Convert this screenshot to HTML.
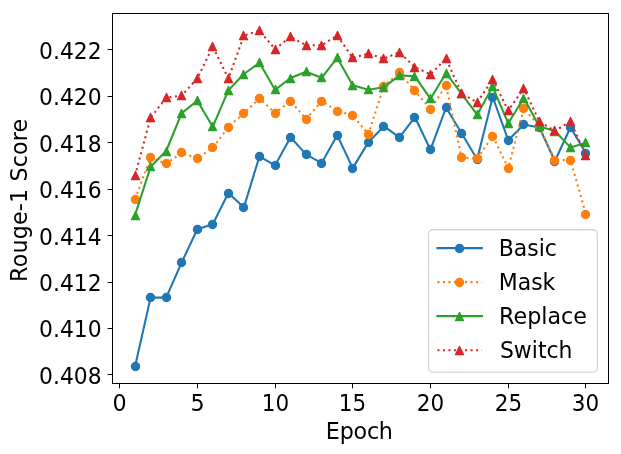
<!DOCTYPE html>
<html><head><meta charset="utf-8"><title>Rouge-1 Score</title>
<style>
html,body{margin:0;padding:0;background:#fff;}
svg{display:block;}
.t{font-family:"DejaVu Sans","Liberation Sans",sans-serif;font-size:22.222px;fill:#000;}
</style></head><body>
<svg width="621" height="454" viewBox="0 0 621 454">
<defs><clipPath id="ax"><rect x="112.5" y="13.5" width="496.0" height="370.0"/></clipPath></defs>
<rect x="0" y="0" width="621" height="454" fill="#fff"/>
<g clip-path="url(#ax)">
<polyline points="135.07,366.40 150.62,297.60 166.17,297.60 181.72,262.40 197.26,229.20 212.81,224.20 228.36,193.00 243.91,207.40 259.46,156.30 275.01,165.40 290.56,137.20 306.11,154.40 321.66,163.10 337.21,135.20 352.75,168.10 368.30,142.40 383.85,126.20 399.40,137.40 414.95,117.20 430.50,149.70 446.05,107.50 461.60,133.20 477.15,159.20 492.70,97.00 508.24,140.20 523.79,124.40 539.34,127.50 554.89,161.00 570.44,127.50 585.99,153.10" fill="none" stroke="#1f77b4" stroke-width="2.083" stroke-linejoin="round" stroke-linecap="square"/>
<circle cx="135.50" cy="366.50" r="4.167" fill="#1f77b4" stroke="#1f77b4" stroke-width="1.1"/>
<circle cx="150.50" cy="297.50" r="4.167" fill="#1f77b4" stroke="#1f77b4" stroke-width="1.1"/>
<circle cx="166.50" cy="297.50" r="4.167" fill="#1f77b4" stroke="#1f77b4" stroke-width="1.1"/>
<circle cx="181.50" cy="262.50" r="4.167" fill="#1f77b4" stroke="#1f77b4" stroke-width="1.1"/>
<circle cx="197.50" cy="229.50" r="4.167" fill="#1f77b4" stroke="#1f77b4" stroke-width="1.1"/>
<circle cx="212.50" cy="224.50" r="4.167" fill="#1f77b4" stroke="#1f77b4" stroke-width="1.1"/>
<circle cx="228.50" cy="193.50" r="4.167" fill="#1f77b4" stroke="#1f77b4" stroke-width="1.1"/>
<circle cx="243.50" cy="207.50" r="4.167" fill="#1f77b4" stroke="#1f77b4" stroke-width="1.1"/>
<circle cx="259.50" cy="156.50" r="4.167" fill="#1f77b4" stroke="#1f77b4" stroke-width="1.1"/>
<circle cx="275.50" cy="165.50" r="4.167" fill="#1f77b4" stroke="#1f77b4" stroke-width="1.1"/>
<circle cx="290.50" cy="137.50" r="4.167" fill="#1f77b4" stroke="#1f77b4" stroke-width="1.1"/>
<circle cx="306.50" cy="154.50" r="4.167" fill="#1f77b4" stroke="#1f77b4" stroke-width="1.1"/>
<circle cx="321.50" cy="163.50" r="4.167" fill="#1f77b4" stroke="#1f77b4" stroke-width="1.1"/>
<circle cx="337.50" cy="135.50" r="4.167" fill="#1f77b4" stroke="#1f77b4" stroke-width="1.1"/>
<circle cx="352.50" cy="168.50" r="4.167" fill="#1f77b4" stroke="#1f77b4" stroke-width="1.1"/>
<circle cx="368.50" cy="142.50" r="4.167" fill="#1f77b4" stroke="#1f77b4" stroke-width="1.1"/>
<circle cx="383.50" cy="126.50" r="4.167" fill="#1f77b4" stroke="#1f77b4" stroke-width="1.1"/>
<circle cx="399.50" cy="137.50" r="4.167" fill="#1f77b4" stroke="#1f77b4" stroke-width="1.1"/>
<circle cx="414.50" cy="117.50" r="4.167" fill="#1f77b4" stroke="#1f77b4" stroke-width="1.1"/>
<circle cx="430.50" cy="149.50" r="4.167" fill="#1f77b4" stroke="#1f77b4" stroke-width="1.1"/>
<circle cx="446.50" cy="107.50" r="4.167" fill="#1f77b4" stroke="#1f77b4" stroke-width="1.1"/>
<circle cx="461.50" cy="133.50" r="4.167" fill="#1f77b4" stroke="#1f77b4" stroke-width="1.1"/>
<circle cx="477.50" cy="159.50" r="4.167" fill="#1f77b4" stroke="#1f77b4" stroke-width="1.1"/>
<circle cx="492.50" cy="97.50" r="4.167" fill="#1f77b4" stroke="#1f77b4" stroke-width="1.1"/>
<circle cx="508.50" cy="140.50" r="4.167" fill="#1f77b4" stroke="#1f77b4" stroke-width="1.1"/>
<circle cx="523.50" cy="124.50" r="4.167" fill="#1f77b4" stroke="#1f77b4" stroke-width="1.1"/>
<circle cx="539.50" cy="127.50" r="4.167" fill="#1f77b4" stroke="#1f77b4" stroke-width="1.1"/>
<circle cx="554.50" cy="161.50" r="4.167" fill="#1f77b4" stroke="#1f77b4" stroke-width="1.1"/>
<circle cx="570.50" cy="127.50" r="4.167" fill="#1f77b4" stroke="#1f77b4" stroke-width="1.1"/>
<circle cx="585.50" cy="153.50" r="4.167" fill="#1f77b4" stroke="#1f77b4" stroke-width="1.1"/>
<polyline points="135.07,199.10 150.62,157.40 166.17,163.70 181.72,152.90 197.26,158.40 212.81,147.90 228.36,127.00 243.91,113.20 259.46,98.40 275.01,113.10 290.56,101.10 306.11,119.10 321.66,101.10 337.21,111.10 352.75,115.20 368.30,134.20 383.85,86.00 399.40,72.90 414.95,90.70 430.50,109.30 446.05,85.40 461.60,157.60 477.15,158.60 492.70,136.10 508.24,168.20 523.79,108.40 539.34,126.60 554.89,160.10 570.44,160.10 585.99,214.30" fill="none" stroke="#ff7f0e" stroke-width="2.083" stroke-dasharray="2.083 3.437" stroke-linejoin="round"/>
<circle cx="135.50" cy="199.50" r="4.167" fill="#ff7f0e" stroke="#ff7f0e" stroke-width="1.1"/>
<circle cx="150.50" cy="157.50" r="4.167" fill="#ff7f0e" stroke="#ff7f0e" stroke-width="1.1"/>
<circle cx="166.50" cy="163.50" r="4.167" fill="#ff7f0e" stroke="#ff7f0e" stroke-width="1.1"/>
<circle cx="181.50" cy="152.50" r="4.167" fill="#ff7f0e" stroke="#ff7f0e" stroke-width="1.1"/>
<circle cx="197.50" cy="158.50" r="4.167" fill="#ff7f0e" stroke="#ff7f0e" stroke-width="1.1"/>
<circle cx="212.50" cy="147.50" r="4.167" fill="#ff7f0e" stroke="#ff7f0e" stroke-width="1.1"/>
<circle cx="228.50" cy="127.50" r="4.167" fill="#ff7f0e" stroke="#ff7f0e" stroke-width="1.1"/>
<circle cx="243.50" cy="113.50" r="4.167" fill="#ff7f0e" stroke="#ff7f0e" stroke-width="1.1"/>
<circle cx="259.50" cy="98.50" r="4.167" fill="#ff7f0e" stroke="#ff7f0e" stroke-width="1.1"/>
<circle cx="275.50" cy="113.50" r="4.167" fill="#ff7f0e" stroke="#ff7f0e" stroke-width="1.1"/>
<circle cx="290.50" cy="101.50" r="4.167" fill="#ff7f0e" stroke="#ff7f0e" stroke-width="1.1"/>
<circle cx="306.50" cy="119.50" r="4.167" fill="#ff7f0e" stroke="#ff7f0e" stroke-width="1.1"/>
<circle cx="321.50" cy="101.50" r="4.167" fill="#ff7f0e" stroke="#ff7f0e" stroke-width="1.1"/>
<circle cx="337.50" cy="111.50" r="4.167" fill="#ff7f0e" stroke="#ff7f0e" stroke-width="1.1"/>
<circle cx="352.50" cy="115.50" r="4.167" fill="#ff7f0e" stroke="#ff7f0e" stroke-width="1.1"/>
<circle cx="368.50" cy="134.50" r="4.167" fill="#ff7f0e" stroke="#ff7f0e" stroke-width="1.1"/>
<circle cx="383.50" cy="86.50" r="4.167" fill="#ff7f0e" stroke="#ff7f0e" stroke-width="1.1"/>
<circle cx="399.50" cy="72.50" r="4.167" fill="#ff7f0e" stroke="#ff7f0e" stroke-width="1.1"/>
<circle cx="414.50" cy="90.50" r="4.167" fill="#ff7f0e" stroke="#ff7f0e" stroke-width="1.1"/>
<circle cx="430.50" cy="109.50" r="4.167" fill="#ff7f0e" stroke="#ff7f0e" stroke-width="1.1"/>
<circle cx="446.50" cy="85.50" r="4.167" fill="#ff7f0e" stroke="#ff7f0e" stroke-width="1.1"/>
<circle cx="461.50" cy="157.50" r="4.167" fill="#ff7f0e" stroke="#ff7f0e" stroke-width="1.1"/>
<circle cx="477.50" cy="158.50" r="4.167" fill="#ff7f0e" stroke="#ff7f0e" stroke-width="1.1"/>
<circle cx="492.50" cy="136.50" r="4.167" fill="#ff7f0e" stroke="#ff7f0e" stroke-width="1.1"/>
<circle cx="508.50" cy="168.50" r="4.167" fill="#ff7f0e" stroke="#ff7f0e" stroke-width="1.1"/>
<circle cx="523.50" cy="108.50" r="4.167" fill="#ff7f0e" stroke="#ff7f0e" stroke-width="1.1"/>
<circle cx="539.50" cy="126.50" r="4.167" fill="#ff7f0e" stroke="#ff7f0e" stroke-width="1.1"/>
<circle cx="554.50" cy="160.50" r="4.167" fill="#ff7f0e" stroke="#ff7f0e" stroke-width="1.1"/>
<circle cx="570.50" cy="160.50" r="4.167" fill="#ff7f0e" stroke="#ff7f0e" stroke-width="1.1"/>
<circle cx="585.50" cy="214.50" r="4.167" fill="#ff7f0e" stroke="#ff7f0e" stroke-width="1.1"/>
<polyline points="135.07,215.10 150.62,166.80 166.17,151.00 181.72,113.10 197.26,100.80 212.81,126.70 228.36,90.40 243.91,74.00 259.46,62.80 275.01,89.80 290.56,78.00 306.11,71.80 321.66,77.80 337.21,57.80 352.75,85.30 368.30,89.80 383.85,87.30 399.40,75.40 414.95,76.30 430.50,98.80 446.05,73.00 461.60,93.80 477.15,114.70 492.70,86.80 508.24,123.30 523.79,98.00 539.34,126.40 554.89,131.00 570.44,147.40 585.99,142.70" fill="none" stroke="#2ca02c" stroke-width="2.083" stroke-linejoin="round" stroke-linecap="square"/>
<polygon points="135.50,211.33 131.33,219.67 139.67,219.67" fill="#2ca02c" stroke="#2ca02c" stroke-width="1.1" stroke-linejoin="round"/>
<polygon points="150.50,162.33 146.33,170.67 154.67,170.67" fill="#2ca02c" stroke="#2ca02c" stroke-width="1.1" stroke-linejoin="round"/>
<polygon points="166.50,147.33 162.33,155.67 170.67,155.67" fill="#2ca02c" stroke="#2ca02c" stroke-width="1.1" stroke-linejoin="round"/>
<polygon points="181.50,109.33 177.33,117.67 185.67,117.67" fill="#2ca02c" stroke="#2ca02c" stroke-width="1.1" stroke-linejoin="round"/>
<polygon points="197.50,96.33 193.33,104.67 201.67,104.67" fill="#2ca02c" stroke="#2ca02c" stroke-width="1.1" stroke-linejoin="round"/>
<polygon points="212.50,122.33 208.33,130.67 216.67,130.67" fill="#2ca02c" stroke="#2ca02c" stroke-width="1.1" stroke-linejoin="round"/>
<polygon points="228.50,86.33 224.33,94.67 232.67,94.67" fill="#2ca02c" stroke="#2ca02c" stroke-width="1.1" stroke-linejoin="round"/>
<polygon points="243.50,70.33 239.33,78.67 247.67,78.67" fill="#2ca02c" stroke="#2ca02c" stroke-width="1.1" stroke-linejoin="round"/>
<polygon points="259.50,58.33 255.33,66.67 263.67,66.67" fill="#2ca02c" stroke="#2ca02c" stroke-width="1.1" stroke-linejoin="round"/>
<polygon points="275.50,85.33 271.33,93.67 279.67,93.67" fill="#2ca02c" stroke="#2ca02c" stroke-width="1.1" stroke-linejoin="round"/>
<polygon points="290.50,74.33 286.33,82.67 294.67,82.67" fill="#2ca02c" stroke="#2ca02c" stroke-width="1.1" stroke-linejoin="round"/>
<polygon points="306.50,67.33 302.33,75.67 310.67,75.67" fill="#2ca02c" stroke="#2ca02c" stroke-width="1.1" stroke-linejoin="round"/>
<polygon points="321.50,73.33 317.33,81.67 325.67,81.67" fill="#2ca02c" stroke="#2ca02c" stroke-width="1.1" stroke-linejoin="round"/>
<polygon points="337.50,53.33 333.33,61.67 341.67,61.67" fill="#2ca02c" stroke="#2ca02c" stroke-width="1.1" stroke-linejoin="round"/>
<polygon points="352.50,81.33 348.33,89.67 356.67,89.67" fill="#2ca02c" stroke="#2ca02c" stroke-width="1.1" stroke-linejoin="round"/>
<polygon points="368.50,85.33 364.33,93.67 372.67,93.67" fill="#2ca02c" stroke="#2ca02c" stroke-width="1.1" stroke-linejoin="round"/>
<polygon points="383.50,83.33 379.33,91.67 387.67,91.67" fill="#2ca02c" stroke="#2ca02c" stroke-width="1.1" stroke-linejoin="round"/>
<polygon points="399.50,71.33 395.33,79.67 403.67,79.67" fill="#2ca02c" stroke="#2ca02c" stroke-width="1.1" stroke-linejoin="round"/>
<polygon points="414.50,72.33 410.33,80.67 418.67,80.67" fill="#2ca02c" stroke="#2ca02c" stroke-width="1.1" stroke-linejoin="round"/>
<polygon points="430.50,94.33 426.33,102.67 434.67,102.67" fill="#2ca02c" stroke="#2ca02c" stroke-width="1.1" stroke-linejoin="round"/>
<polygon points="446.50,69.33 442.33,77.67 450.67,77.67" fill="#2ca02c" stroke="#2ca02c" stroke-width="1.1" stroke-linejoin="round"/>
<polygon points="461.50,89.33 457.33,97.67 465.67,97.67" fill="#2ca02c" stroke="#2ca02c" stroke-width="1.1" stroke-linejoin="round"/>
<polygon points="477.50,110.33 473.33,118.67 481.67,118.67" fill="#2ca02c" stroke="#2ca02c" stroke-width="1.1" stroke-linejoin="round"/>
<polygon points="492.50,82.33 488.33,90.67 496.67,90.67" fill="#2ca02c" stroke="#2ca02c" stroke-width="1.1" stroke-linejoin="round"/>
<polygon points="508.50,119.33 504.33,127.67 512.67,127.67" fill="#2ca02c" stroke="#2ca02c" stroke-width="1.1" stroke-linejoin="round"/>
<polygon points="523.50,94.33 519.33,102.67 527.67,102.67" fill="#2ca02c" stroke="#2ca02c" stroke-width="1.1" stroke-linejoin="round"/>
<polygon points="539.50,122.33 535.33,130.67 543.67,130.67" fill="#2ca02c" stroke="#2ca02c" stroke-width="1.1" stroke-linejoin="round"/>
<polygon points="554.50,127.33 550.33,135.67 558.67,135.67" fill="#2ca02c" stroke="#2ca02c" stroke-width="1.1" stroke-linejoin="round"/>
<polygon points="570.50,143.33 566.33,151.67 574.67,151.67" fill="#2ca02c" stroke="#2ca02c" stroke-width="1.1" stroke-linejoin="round"/>
<polygon points="585.50,138.33 581.33,146.67 589.67,146.67" fill="#2ca02c" stroke="#2ca02c" stroke-width="1.1" stroke-linejoin="round"/>
<polyline points="135.07,175.50 150.62,117.60 166.17,97.90 181.72,95.50 197.26,78.50 212.81,46.50 228.36,78.70 243.91,35.60 259.46,30.60 275.01,49.10 290.56,36.80 306.11,45.30 321.66,45.30 337.21,35.60 352.75,57.80 368.30,53.60 383.85,58.60 399.40,52.30 414.95,67.30 430.50,74.30 446.05,58.60 461.60,93.50 477.15,102.50 492.70,79.30 508.24,110.50 523.79,88.50 539.34,121.60 554.89,130.90 570.44,121.50 585.99,155.20" fill="none" stroke="#d62728" stroke-width="2.083" stroke-dasharray="2.083 3.437" stroke-linejoin="round"/>
<polygon points="135.50,171.33 131.33,179.67 139.67,179.67" fill="#d62728" stroke="#d62728" stroke-width="1.1" stroke-linejoin="round"/>
<polygon points="150.50,113.33 146.33,121.67 154.67,121.67" fill="#d62728" stroke="#d62728" stroke-width="1.1" stroke-linejoin="round"/>
<polygon points="166.50,93.33 162.33,101.67 170.67,101.67" fill="#d62728" stroke="#d62728" stroke-width="1.1" stroke-linejoin="round"/>
<polygon points="181.50,91.33 177.33,99.67 185.67,99.67" fill="#d62728" stroke="#d62728" stroke-width="1.1" stroke-linejoin="round"/>
<polygon points="197.50,74.33 193.33,82.67 201.67,82.67" fill="#d62728" stroke="#d62728" stroke-width="1.1" stroke-linejoin="round"/>
<polygon points="212.50,42.33 208.33,50.67 216.67,50.67" fill="#d62728" stroke="#d62728" stroke-width="1.1" stroke-linejoin="round"/>
<polygon points="228.50,74.33 224.33,82.67 232.67,82.67" fill="#d62728" stroke="#d62728" stroke-width="1.1" stroke-linejoin="round"/>
<polygon points="243.50,31.33 239.33,39.67 247.67,39.67" fill="#d62728" stroke="#d62728" stroke-width="1.1" stroke-linejoin="round"/>
<polygon points="259.50,26.33 255.33,34.67 263.67,34.67" fill="#d62728" stroke="#d62728" stroke-width="1.1" stroke-linejoin="round"/>
<polygon points="275.50,45.33 271.33,53.67 279.67,53.67" fill="#d62728" stroke="#d62728" stroke-width="1.1" stroke-linejoin="round"/>
<polygon points="290.50,32.33 286.33,40.67 294.67,40.67" fill="#d62728" stroke="#d62728" stroke-width="1.1" stroke-linejoin="round"/>
<polygon points="306.50,41.33 302.33,49.67 310.67,49.67" fill="#d62728" stroke="#d62728" stroke-width="1.1" stroke-linejoin="round"/>
<polygon points="321.50,41.33 317.33,49.67 325.67,49.67" fill="#d62728" stroke="#d62728" stroke-width="1.1" stroke-linejoin="round"/>
<polygon points="337.50,31.33 333.33,39.67 341.67,39.67" fill="#d62728" stroke="#d62728" stroke-width="1.1" stroke-linejoin="round"/>
<polygon points="352.50,53.33 348.33,61.67 356.67,61.67" fill="#d62728" stroke="#d62728" stroke-width="1.1" stroke-linejoin="round"/>
<polygon points="368.50,49.33 364.33,57.67 372.67,57.67" fill="#d62728" stroke="#d62728" stroke-width="1.1" stroke-linejoin="round"/>
<polygon points="383.50,54.33 379.33,62.67 387.67,62.67" fill="#d62728" stroke="#d62728" stroke-width="1.1" stroke-linejoin="round"/>
<polygon points="399.50,48.33 395.33,56.67 403.67,56.67" fill="#d62728" stroke="#d62728" stroke-width="1.1" stroke-linejoin="round"/>
<polygon points="414.50,63.33 410.33,71.67 418.67,71.67" fill="#d62728" stroke="#d62728" stroke-width="1.1" stroke-linejoin="round"/>
<polygon points="430.50,70.33 426.33,78.67 434.67,78.67" fill="#d62728" stroke="#d62728" stroke-width="1.1" stroke-linejoin="round"/>
<polygon points="446.50,54.33 442.33,62.67 450.67,62.67" fill="#d62728" stroke="#d62728" stroke-width="1.1" stroke-linejoin="round"/>
<polygon points="461.50,89.33 457.33,97.67 465.67,97.67" fill="#d62728" stroke="#d62728" stroke-width="1.1" stroke-linejoin="round"/>
<polygon points="477.50,98.33 473.33,106.67 481.67,106.67" fill="#d62728" stroke="#d62728" stroke-width="1.1" stroke-linejoin="round"/>
<polygon points="492.50,75.33 488.33,83.67 496.67,83.67" fill="#d62728" stroke="#d62728" stroke-width="1.1" stroke-linejoin="round"/>
<polygon points="508.50,106.33 504.33,114.67 512.67,114.67" fill="#d62728" stroke="#d62728" stroke-width="1.1" stroke-linejoin="round"/>
<polygon points="523.50,84.33 519.33,92.67 527.67,92.67" fill="#d62728" stroke="#d62728" stroke-width="1.1" stroke-linejoin="round"/>
<polygon points="539.50,117.33 535.33,125.67 543.67,125.67" fill="#d62728" stroke="#d62728" stroke-width="1.1" stroke-linejoin="round"/>
<polygon points="554.50,126.33 550.33,134.67 558.67,134.67" fill="#d62728" stroke="#d62728" stroke-width="1.1" stroke-linejoin="round"/>
<polygon points="570.50,117.33 566.33,125.67 574.67,125.67" fill="#d62728" stroke="#d62728" stroke-width="1.1" stroke-linejoin="round"/>
<polygon points="585.50,151.33 581.33,159.67 589.67,159.67" fill="#d62728" stroke="#d62728" stroke-width="1.1" stroke-linejoin="round"/>
</g>
<line x1="107.64" x2="112.50" y1="374.50" y2="374.50" stroke="#000" stroke-width="1.0"/>
<text x="101.58" y="384.00" text-anchor="end" textLength="62.5" lengthAdjust="spacingAndGlyphs" class="t">0.408</text>
<line x1="107.64" x2="112.50" y1="328.50" y2="328.50" stroke="#000" stroke-width="1.0"/>
<text x="101.58" y="337.00" text-anchor="end" textLength="62.5" lengthAdjust="spacingAndGlyphs" class="t">0.410</text>
<line x1="107.64" x2="112.50" y1="282.50" y2="282.50" stroke="#000" stroke-width="1.0"/>
<text x="101.58" y="291.00" text-anchor="end" textLength="62.5" lengthAdjust="spacingAndGlyphs" class="t">0.412</text>
<line x1="107.64" x2="112.50" y1="235.50" y2="235.50" stroke="#000" stroke-width="1.0"/>
<text x="101.58" y="245.00" text-anchor="end" textLength="62.5" lengthAdjust="spacingAndGlyphs" class="t">0.414</text>
<line x1="107.64" x2="112.50" y1="189.50" y2="189.50" stroke="#000" stroke-width="1.0"/>
<text x="101.58" y="198.00" text-anchor="end" textLength="62.5" lengthAdjust="spacingAndGlyphs" class="t">0.416</text>
<line x1="107.64" x2="112.50" y1="142.50" y2="142.50" stroke="#000" stroke-width="1.0"/>
<text x="101.58" y="152.00" text-anchor="end" textLength="62.5" lengthAdjust="spacingAndGlyphs" class="t">0.418</text>
<line x1="107.64" x2="112.50" y1="96.50" y2="96.50" stroke="#000" stroke-width="1.0"/>
<text x="101.58" y="105.00" text-anchor="end" textLength="62.5" lengthAdjust="spacingAndGlyphs" class="t">0.420</text>
<line x1="107.64" x2="112.50" y1="49.50" y2="49.50" stroke="#000" stroke-width="1.0"/>
<text x="101.58" y="59.00" text-anchor="end" textLength="62.5" lengthAdjust="spacingAndGlyphs" class="t">0.422</text>
<line x1="119.50" x2="119.50" y1="383.50" y2="388.36" stroke="#000" stroke-width="1.0"/>
<text x="119.50" y="410.5" text-anchor="middle" class="t">0</text>
<line x1="197.50" x2="197.50" y1="383.50" y2="388.36" stroke="#000" stroke-width="1.0"/>
<text x="197.50" y="410.5" text-anchor="middle" class="t">5</text>
<line x1="275.50" x2="275.50" y1="383.50" y2="388.36" stroke="#000" stroke-width="1.0"/>
<text x="275.50" y="410.5" text-anchor="middle" textLength="27.4" lengthAdjust="spacingAndGlyphs" class="t">10</text>
<line x1="352.50" x2="352.50" y1="383.50" y2="388.36" stroke="#000" stroke-width="1.0"/>
<text x="352.50" y="410.5" text-anchor="middle" textLength="27.4" lengthAdjust="spacingAndGlyphs" class="t">15</text>
<line x1="430.50" x2="430.50" y1="383.50" y2="388.36" stroke="#000" stroke-width="1.0"/>
<text x="430.50" y="410.5" text-anchor="middle" textLength="27.4" lengthAdjust="spacingAndGlyphs" class="t">20</text>
<line x1="508.50" x2="508.50" y1="383.50" y2="388.36" stroke="#000" stroke-width="1.0"/>
<text x="508.50" y="410.5" text-anchor="middle" textLength="27.4" lengthAdjust="spacingAndGlyphs" class="t">25</text>
<line x1="585.50" x2="585.50" y1="383.50" y2="388.36" stroke="#000" stroke-width="1.0"/>
<text x="585.50" y="410.5" text-anchor="middle" textLength="27.4" lengthAdjust="spacingAndGlyphs" class="t">30</text>
<rect x="112.5" y="13.5" width="496.0" height="370.0" fill="none" stroke="#000" stroke-width="1.0" stroke-linejoin="miter"/>
<text x="359.40" y="439.2" text-anchor="middle" textLength="67.1" class="t">Epoch</text>
<text transform="translate(27.3 200.30) rotate(-90)" text-anchor="middle" textLength="163.2" class="t">Rouge-1 Score</text>
<rect x="428.5" y="229.7" width="168.90" height="142.40" rx="4.4" ry="4.4" fill="#fff" fill-opacity="0.8" stroke="#ccc" stroke-opacity="0.8" stroke-width="1.389"/>
<line x1="437.40" x2="481.84" y1="248.1" y2="248.1" stroke="#1f77b4" stroke-width="2.083" stroke-linecap="square"/>
<circle cx="459.50" cy="248.50" r="4.167" fill="#1f77b4" stroke="#1f77b4" stroke-width="1.1"/>
<text x="498.8" y="256.10" textLength="58.12" lengthAdjust="spacingAndGlyphs" class="t">Basic</text>
<line x1="437.40" x2="481.84" y1="282.1" y2="282.1" stroke="#ff7f0e" stroke-width="2.083" stroke-dasharray="2.083 3.437"/>
<circle cx="459.50" cy="282.50" r="4.167" fill="#ff7f0e" stroke="#ff7f0e" stroke-width="1.1"/>
<text x="498.8" y="290.20" textLength="56.54" lengthAdjust="spacingAndGlyphs" class="t">Mask</text>
<line x1="437.40" x2="481.84" y1="316.1" y2="316.1" stroke="#2ca02c" stroke-width="2.083" stroke-linecap="square"/>
<polygon points="459.50,312.33 455.33,320.67 463.67,320.67" fill="#2ca02c" stroke="#2ca02c" stroke-width="1.1" stroke-linejoin="round"/>
<text x="499.1" y="324.20" textLength="87.89" lengthAdjust="spacingAndGlyphs" class="t">Replace</text>
<line x1="437.40" x2="481.84" y1="350.2" y2="350.2" stroke="#d62728" stroke-width="2.083" stroke-dasharray="2.083 3.437"/>
<polygon points="459.50,346.33 455.33,354.67 463.67,354.67" fill="#d62728" stroke="#d62728" stroke-width="1.1" stroke-linejoin="round"/>
<text x="499.9" y="358.30" textLength="72.59" lengthAdjust="spacingAndGlyphs" class="t">Switch</text>
</svg>
</body></html>
